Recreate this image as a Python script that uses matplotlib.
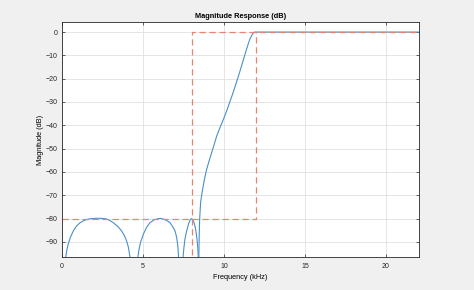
import matplotlib
matplotlib.use("Agg")
import matplotlib.pyplot as plt

# magnitude response (kHz, dB), one list per segment
lobe1_f = [0.22, 0.30, 0.39, 0.52, 0.70, 0.90, 1.11, 1.40, 1.73, 2.10, 2.40, 2.70, 2.95, 3.17, 3.45, 3.68, 3.85, 3.99, 4.10, 4.20]
lobe1_db = [-97.0, -93.5, -90.8, -88.0, -85.3, -83.2, -81.8, -80.7, -80.1, -79.9, -79.9, -80.1, -80.8, -81.8, -83.4, -85.3, -87.3, -89.6, -92.3, -96.5]
lobe2_f = [4.68, 4.75, 4.85, 5.02, 5.22, 5.43, 5.70, 6.05, 6.35, 6.55, 6.67, 6.85, 6.98, 7.08, 7.15, 7.20]
lobe2_db = [-97.0, -93.5, -90.2, -86.8, -83.8, -81.8, -80.5, -79.9, -80.4, -81.2, -81.8, -83.6, -85.3, -88.0, -91.5, -96.5]
lobe3_f = [7.47, 7.53, 7.60, 7.70, 7.82, 7.92, 8.00, 8.08, 8.18, 8.27, 8.34, 8.39, 8.42]
lobe3_db = [-97.0, -92.5, -88.5, -85.3, -82.2, -80.5, -80.0, -80.5, -82.3, -85.3, -89.0, -93.0, -97.0]
trans_f = [8.45, 8.47, 8.50, 8.56, 8.64, 8.72, 8.82, 8.93, 9.08, 9.24, 9.40, 9.55, 9.75, 9.96, 10.17, 10.37, 10.60, 10.80, 10.99, 11.17,
           11.30, 11.42, 11.52, 11.62, 11.72, 11.82, 11.91, 12.00, 14.0, 18.0, 22.05]
trans_db = [-97.0, -89.0, -80.5, -73.2, -69.3, -66.1, -62.4, -59.0, -55.4, -51.8, -48.2, -44.7, -41.1, -37.6, -33.8, -29.9, -25.3, -21.0, -16.8, -12.6,
            -9.6, -6.9, -4.7, -2.8, -1.4, -0.4, 0.0, 0.0, 0.0, 0.0, 0.0]

# specification mask
mask_stop_f = [0, 12, 12]
mask_stop_db = [-80, -80, 0]
mask_pass_f = [8, 8, 22.05]
mask_pass_db = [-100, 0, 0]

plt.rcParams['font.family'] = ['Liberation Sans', 'DejaVu Sans']

fig = plt.figure(figsize=(4.74, 2.90), dpi=100, facecolor='#f0f0f0')
ax = fig.add_axes([0.1308, 0.1138, 0.7532, 0.8102])

line_c = '#4a90c8'
for f, db in [(lobe1_f, lobe1_db), (lobe2_f, lobe2_db), (lobe3_f, lobe3_db), (trans_f, trans_db)]:
    ax.plot(f, db, color=line_c, lw=0.8)

mask_c = '#e8836e'
ax.plot(mask_stop_f, mask_stop_db, color=mask_c, lw=0.9, ls=(0, (5, 3)))
ax.plot(mask_pass_f, mask_pass_db, color=mask_c, lw=0.9, ls=(0, (5, 3)))

ax.set_xlim(0, 22.05)
ax.set_ylim(-96.5, 4.3)
ax.set_xticks([0, 5, 10, 15, 20])
ax.set_yticks(range(0, -100, -10))
ax.grid(True, color='#e0e0e0', lw=0.6)
ax.set_axisbelow(True)
ax.tick_params(direction='in', length=2.5, width=0.5, labelsize=5, colors='#262626',
               top=True, right=True, pad=4)
ax.tick_params(axis='y', pad=3)
for s in ax.spines.values():
    s.set_color('#262626')
    s.set_linewidth(0.6)

ax.set_title('Magnitude Response (dB)', fontsize=5.3, fontweight='bold', pad=3)
ax.set_xlabel('Frequency (kHz)', fontsize=5.3, labelpad=3)
ax.set_ylabel('Magnitude (dB)', fontsize=5.3, labelpad=1)

fig.savefig('out.png', dpi=100, facecolor=fig.get_facecolor())
